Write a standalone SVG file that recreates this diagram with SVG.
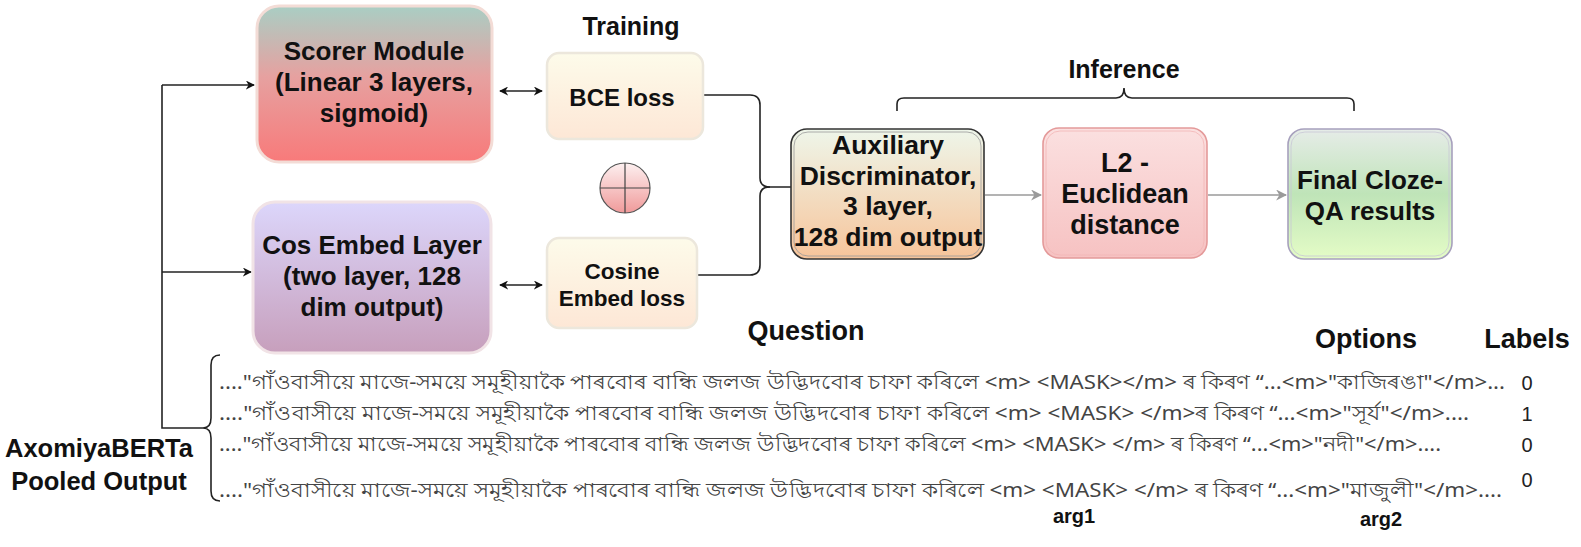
<svg xmlns="http://www.w3.org/2000/svg" width="1581" height="547" viewBox="0 0 1581 547">
<style>
.b{font-family:"Liberation Sans",Arial,sans-serif;font-weight:bold;fill:#111;text-anchor:middle}
.row{font-family:"Noto Sans","Liberation Sans",sans-serif;fill:#444;font-size:19.5px}
.lbl{font-family:"Liberation Sans",Arial,sans-serif;fill:#222;font-size:20px;text-anchor:middle}
.ln{fill:none;stroke:#222;stroke-width:1.6}
.gl{fill:none;stroke:#9a9a9a;stroke-width:1.6}
</style>
<defs>
<linearGradient id="gScorer" x1="0" y1="0" x2="0" y2="1"><stop offset="0" stop-color="#a9cec4"/><stop offset="0.45" stop-color="#e6a1a0"/><stop offset="1" stop-color="#f87a7a"/></linearGradient>
<linearGradient id="gCos" x1="0" y1="0" x2="0" y2="1"><stop offset="0" stop-color="#dcd6fb"/><stop offset="1" stop-color="#c79fbc"/></linearGradient>
<linearGradient id="gLoss" x1="0" y1="0" x2="0" y2="1"><stop offset="0" stop-color="#fdfbea"/><stop offset="1" stop-color="#fde7d6"/></linearGradient>
<linearGradient id="gAux" x1="0" y1="0" x2="0" y2="1"><stop offset="0" stop-color="#eef6ea"/><stop offset="1" stop-color="#f7c49a"/></linearGradient>
<linearGradient id="gL2" x1="0" y1="0" x2="0" y2="1"><stop offset="0" stop-color="#fbe0e0"/><stop offset="1" stop-color="#f6c2c2"/></linearGradient>
<linearGradient id="gFin" x1="0" y1="0" x2="0" y2="1"><stop offset="0" stop-color="#e6ece8"/><stop offset="0.5" stop-color="#bfe4b8"/><stop offset="1" stop-color="#e4fcc6"/></linearGradient>
<linearGradient id="gCirc" x1="0" y1="0" x2="0" y2="1"><stop offset="0" stop-color="#fdf0f0"/><stop offset="1" stop-color="#f09a9a"/></linearGradient>
<marker id="ah" viewBox="0 0 10 10" refX="9" refY="5" markerWidth="9" markerHeight="9" orient="auto-start-reverse" markerUnits="userSpaceOnUse"><path d="M0,0 L10,5 L0,10 L3,5 Z" fill="#111"/></marker>
<marker id="ahg" viewBox="0 0 10 10" refX="9" refY="5" markerWidth="11" markerHeight="11" orient="auto" markerUnits="userSpaceOnUse"><path d="M0,0 L10,5 L0,10 L3,5 Z" fill="#9a9a9a"/></marker>
</defs>

<g id="connectors">
<path class="ln" d="M162,85 V428 H203" />
<path class="ln" d="M162,85 H254" marker-end="url(#ah)"/>
<path class="ln" d="M162,272 H251" marker-end="url(#ah)"/>
<path class="ln" d="M500,91 H542" marker-start="url(#ah)" marker-end="url(#ah)"/>
<path class="ln" d="M500,285 H542" marker-start="url(#ah)" marker-end="url(#ah)"/>
<path class="ln" stroke="#333" stroke-width="1.3" d="M704,95 H750 Q760,95 760,105 V178 Q760,187 770,187 H791"/>
<path class="ln" stroke="#333" stroke-width="1.3" d="M698,275 H750 Q760,275 760,265 V196 Q760,187 770,187"/>
<path class="gl" d="M985,195 H1041" marker-end="url(#ahg)"/>
<path class="gl" d="M1208,195 H1286" marker-end="url(#ahg)"/>
<path class="ln" stroke="#333" stroke-width="1.3" d="M897,111 V104 Q897,98 904,98 H1116 Q1124,98 1124,88 Q1124,98 1132,98 H1347 Q1354,98 1354,104 V111"/>
<path class="ln" stroke="#333" stroke-width="1.3" d="M220,355 Q211,355 211,365 V418 Q211,428 203,428 Q211,428 211,438 V491 Q211,501 220,501"/>
</g>

<text class="b" x="631" y="35" font-size="25">Training</text>
<text class="b" x="1124" y="78" font-size="25">Inference</text>

<g id="scorer">
<rect x="257" y="6" width="235" height="156" rx="22" fill="url(#gScorer)" stroke="#f3dcd6" stroke-width="3"/>
<text class="b" font-size="26"><tspan x="374" y="60">Scorer Module</tspan><tspan x="374" y="91">(Linear 3 layers,</tspan><tspan x="374" y="122">sigmoid)</tspan></text>
</g>

<g id="cosembed">
<rect x="253" y="202" width="238" height="151" rx="22" fill="url(#gCos)" stroke="#f1e3e6" stroke-width="3"/>
<text class="b" font-size="26"><tspan x="372" y="254">Cos Embed Layer</tspan><tspan x="372" y="285">(two layer, 128</tspan><tspan x="372" y="316">dim output)</tspan></text>
</g>

<g id="bce">
<rect x="547" y="53" width="156" height="86" rx="12" fill="url(#gLoss)" stroke="#ece7dc" stroke-width="2.5"/>
<text class="b" x="622" y="106" font-size="24">BCE loss</text>
</g>

<g id="cosloss">
<rect x="547" y="238" width="150" height="90" rx="12" fill="url(#gLoss)" stroke="#ece7dc" stroke-width="2.5"/>
<text class="b" font-size="22.5"><tspan x="622" y="279">Cosine</tspan><tspan x="622" y="306">Embed loss</tspan></text>
</g>

<g id="plus">
<circle cx="625" cy="188" r="25" fill="url(#gCirc)" stroke="#555" stroke-width="1.2"/>
<path d="M600,188 H650 M625,163 V213" stroke="#444" stroke-width="1.2"/>
</g>

<g id="aux">
<rect x="791" y="129" width="193" height="130" rx="16" fill="url(#gAux)" stroke="#333" stroke-width="1.6"/>
<rect x="794" y="132" width="187" height="124" rx="14" fill="none" stroke="#999" stroke-width="0.8"/>
<text class="b" font-size="26.5"><tspan x="888" y="154">Auxiliary</tspan><tspan x="888" y="185">Discriminator,</tspan><tspan x="888" y="215">3 layer,</tspan><tspan x="888" y="246">128 dim output</tspan></text>
</g>

<g id="l2">
<rect x="1043" y="128" width="164" height="130" rx="16" fill="url(#gL2)" stroke="#e49a9a" stroke-width="1.6"/>
<rect x="1046" y="131" width="158" height="124" rx="14" fill="none" stroke="#f2b5b5" stroke-width="0.8"/>
<text class="b" font-size="27"><tspan x="1125" y="172">L2 -</tspan><tspan x="1125" y="203">Euclidean</tspan><tspan x="1125" y="234">distance</tspan></text>
</g>

<g id="final">
<rect x="1288" y="129" width="164" height="130" rx="16" fill="url(#gFin)" stroke="#a7a0bd" stroke-width="1.6"/>
<rect x="1291" y="132" width="158" height="124" rx="14" fill="none" stroke="#c8c6d6" stroke-width="0.8"/>
<text class="b" font-size="26"><tspan x="1370" y="189">Final Cloze-</tspan><tspan x="1370" y="220">QA results</tspan></text>
</g>

<g id="axomiya">
<text class="b" font-size="25.5"><tspan x="99" y="457">AxomiyaBERTa</tspan><tspan x="99" y="490">Pooled Output</tspan></text>
</g>

<g id="table">
<text class="b" x="806" y="340" font-size="27">Question</text>
<text class="b" x="1366" y="348" font-size="27">Options</text>
<text class="b" x="1527" y="348" font-size="27">Labels</text>
<text class="row" x="219" y="389" textLength="1286" lengthAdjust="spacingAndGlyphs">...."গাঁওবাসীয়ে মাজে-সময়ে সমূহীয়াকৈ পাৰবোৰ বান্ধি জলজ উদ্ভিদবোৰ চাফা কৰিলে &lt;m&gt; &lt;MASK&gt;&lt;/m&gt; ৰ কিৰণ “...&lt;m&gt;"কাজিৰঙা"&lt;/m&gt;...</text>
<text class="row" x="219" y="420" textLength="1250" lengthAdjust="spacingAndGlyphs">...."গাঁওবাসীয়ে মাজে-সময়ে সমূহীয়াকৈ পাৰবোৰ বান্ধি জলজ উদ্ভিদবোৰ চাফা কৰিলে &lt;m&gt; &lt;MASK&gt; &lt;/m&gt;ৰ কিৰণ “...&lt;m&gt;"সূৰ্য"&lt;/m&gt;....</text>
<text class="row" x="219" y="451" textLength="1222" lengthAdjust="spacingAndGlyphs">...."গাঁওবাসীয়ে মাজে-সময়ে সমূহীয়াকৈ পাৰবোৰ বান্ধি জলজ উদ্ভিদবোৰ চাফা কৰিলে &lt;m&gt; &lt;MASK&gt; &lt;/m&gt; ৰ কিৰণ “...&lt;m&gt;"নদী"&lt;/m&gt;....</text>
<text class="row" x="219" y="497" textLength="1283" lengthAdjust="spacingAndGlyphs">...."গাঁওবাসীয়ে মাজে-সময়ে সমূহীয়াকৈ পাৰবোৰ বান্ধি জলজ উদ্ভিদবোৰ চাফা কৰিলে &lt;m&gt; &lt;MASK&gt; &lt;/m&gt; ৰ কিৰণ “...&lt;m&gt;"মাজুলী"&lt;/m&gt;....</text>
<text class="lbl" x="1527" y="390">0</text>
<text class="lbl" x="1527" y="421">1</text>
<text class="lbl" x="1527" y="452">0</text>
<text class="lbl" x="1527" y="487">0</text>
<text class="b" x="1074" y="523" font-size="20">arg1</text>
<text class="b" x="1381" y="526" font-size="20">arg2</text>
</g>
</svg>
